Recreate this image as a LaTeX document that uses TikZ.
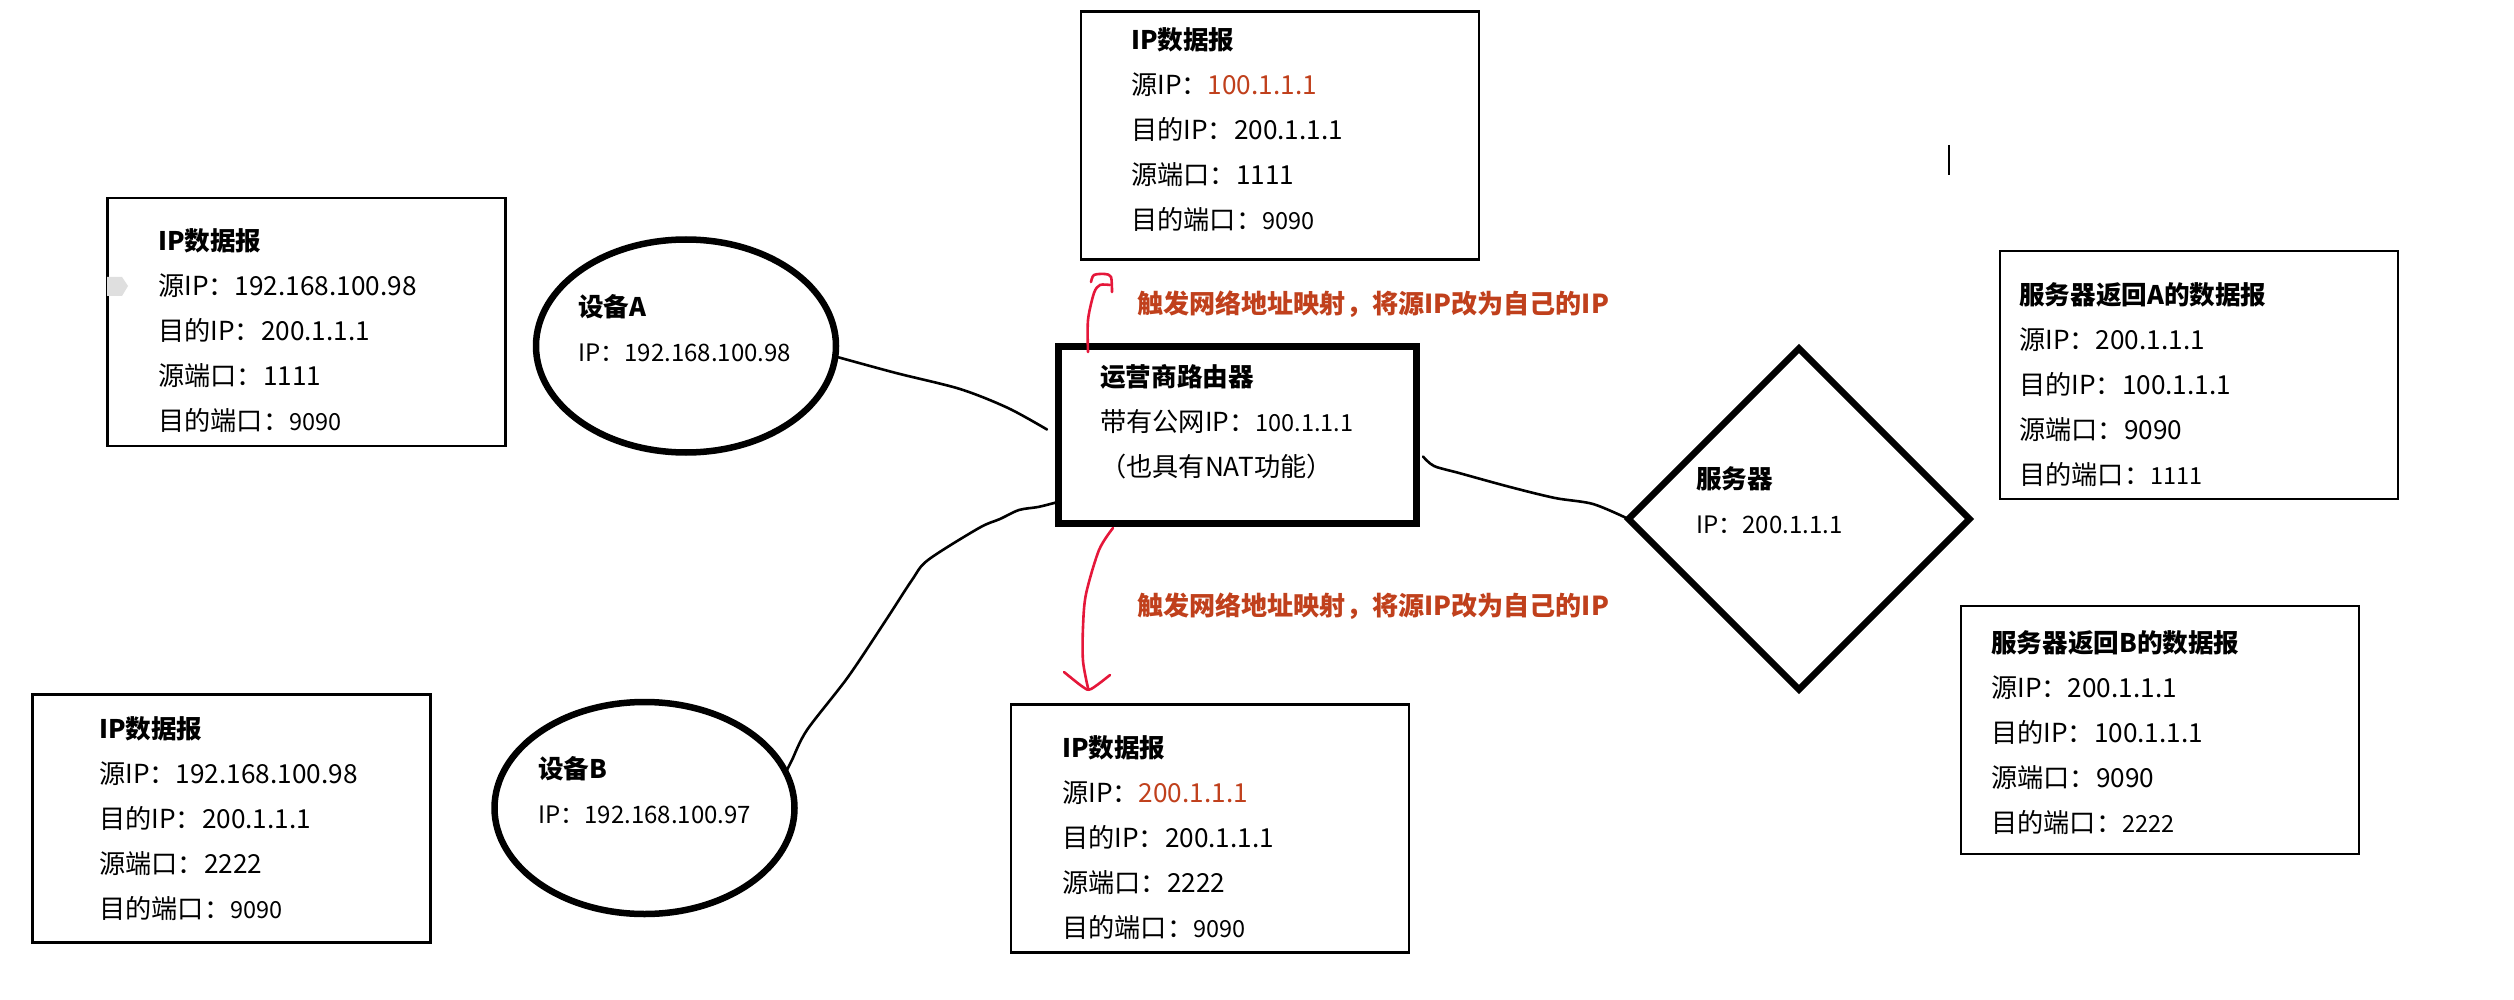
\documentclass[tikz,border=0pt]{standalone}
\usepackage{fontspec}
\setmainfont{Noto Sans CJK SC}
\usetikzlibrary{shapes.geometric}
\definecolor{noteRed}{HTML}{C0401C}
\definecolor{penRed}{HTML}{E5173A}
\newcommand\headtxt[1]{{\bfseries\fontsize{25.6}{45}\selectfont #1}}
\newcommand\smallnum[1]{{\fontsize{23.5}{45}\selectfont #1}}
\tikzset{
  x=1pt,y=-1pt,
  pktbox/.style={draw=black,line width=2.2pt,rectangle,minimum width=398pt,minimum height=248pt,inner sep=0pt,outer sep=0pt},
  pkttext/.style={anchor=base west,align=left,inner sep=0pt,font=\fontsize{26.2}{45}\selectfont},
  devell/.style={draw=black,line width=6.5pt,ellipse,inner sep=0pt,outer sep=0pt},
  notetxt/.style={anchor=base west,inner sep=0pt,text=noteRed,font=\bfseries\fontsize{26.1}{30}\selectfont},
  wire/.style={draw=black,line width=2.6pt,line cap=round,line join=round},
  penline/.style={draw=penRed,line width=2.6pt,line cap=round,line join=round},
}
\begin{document}
\begin{tikzpicture}
\useasboundingbox (0,0) rectangle (2514,1000);
% packet boxes
\node[pktbox] (boxA) at (306.5,322) {};
\node[pktbox] (boxNatA) at (1280,135.5) {};
\node[pktbox] (boxNatB) at (1210,828.5) {};
\node[pktbox] (boxB) at (231.5,818.5) {};
\node[pktbox] (boxRetA) at (2199,375) {};
\node[pktbox] (boxRetB) at (2160,730) {};
% devices
\node[devell,minimum width=300pt,minimum height=213pt] (devA) at (686,346) {};
\node[devell,minimum width=300pt,minimum height=212pt] (devB) at (644.5,808) {};
\node[draw=black,line width=7pt,rectangle,minimum width=358pt,minimum height=177pt,inner sep=0pt,outer sep=0pt] (router) at (1237,434.5) {};
\node[draw=black,line width=6.5pt,diamond,shape aspect=1,minimum width=341pt,minimum height=341pt,inner sep=0pt,outer sep=0pt] (server) at (1799,519) {};
% packet texts
\node[pkttext] (txtA) at (158,430.5) {\headtxt{IP数据报}\\源IP：192.168.100.98\\目的IP：200.1.1.1\\源端口：1111\\目的端口：\smallnum{9090}};
\node[pkttext] (txtNatA) at (1131,230) {\headtxt{IP数据报}\\源IP：\textcolor{noteRed}{100.1.1.1}\\目的IP：200.1.1.1\\源端口：1111\\目的端口：\smallnum{9090}};
\node[pkttext] (txtNatB) at (1062,937) {\headtxt{IP数据报}\\源IP：\textcolor{noteRed}{200.1.1.1}\\目的IP：200.1.1.1\\源端口：2222\\目的端口：\smallnum{9090}};
\node[pkttext] (txtB) at (99,918.5) {\headtxt{IP数据报}\\源IP：192.168.100.98\\目的IP：200.1.1.1\\源端口：2222\\目的端口：\smallnum{9090}};
\node[pkttext] (txtRetA) at (2019,484) {\headtxt{服务器返回A的数据报}\\源IP：200.1.1.1\\目的IP：100.1.1.1\\源端口：9090\\目的端口：\smallnum{1111}};
\node[pkttext] (txtRetB) at (1991,832.5) {\headtxt{服务器返回B的数据报}\\源IP：200.1.1.1\\目的IP：100.1.1.1\\源端口：9090\\目的端口：\smallnum{2222}};
% device texts
\node[pkttext] (txtDevA) at (578,361) {\headtxt{设备A}\\{\fontsize{24}{45}\selectfont IP：192.168.100.98}};
\node[pkttext] (txtDevB) at (538,823) {\headtxt{设备B}\\{\fontsize{24}{45}\selectfont IP：192.168.100.97}};
\node[pkttext] (txtRouter) at (1100,476) {\headtxt{运营商路由器}\\带有公网IP：\smallnum{100.1.1.1}\\（也具有NAT功能）};
\node[pkttext] (txtServer) at (1696,533) {\headtxt{服务器}\\{\fontsize{24}{45}\selectfont IP：200.1.1.1}};
% notes
\node[notetxt] (noteUp) at (1137,314) {触发网络地址映射，将源IP改为自己的IP};
\node[notetxt] (noteDown) at (1137,615) {触发网络地址映射，将源IP改为自己的IP};
% connectors
\draw[wire] plot[smooth,tension=0.5] coordinates {(devA.-4) (896,373) (960,389) (1008,408) ([xshift=-11pt,yshift=5pt]router.west)};
\draw[wire] plot[smooth,tension=0.5] coordinates {([xshift=-2pt,yshift=-68pt]router.west) (1038,507) (1019,510) (1000,519) (979,528) (928,560) (912,580) (886,620) (848,677) (807,730) (792,760) ([xshift=-8pt,yshift=37pt]devB.east)};
\draw[wire] plot[smooth,tension=0.5] coordinates {([xshift=7pt,yshift=-22pt]router.east) (1434,466) (1459,473) (1510,487) (1555,498) (1593,504) (server.west)};
% red arrows
\draw[penline] plot[smooth,tension=0.5] coordinates {([xshift=-149pt,yshift=-6pt]router.north) (1088,320) (1094,293) (1100,285) (1110,285)};
\draw[penline] plot[smooth,tension=0.5] coordinates {(1091,282) (1094,275) (1105,274) (1111,277) (1112,292)};
\draw[penline] plot[smooth,tension=0.5] coordinates {([xshift=-124pt,yshift=-5pt]router.south) (1099,550) (1086,594) (1083,627) (1083,661) (1088,688)};
\draw[penline] plot[smooth,tension=0.5] coordinates {(1064,672) (1083,687) (1091,689) (1110,675)};
% caret and marker
\draw[black,line width=2pt] (1949,145) -- (1949,175);
\fill[gray!25] (107,277) -- (122,277) -- (128,286) -- (122,296) -- (107,296) -- cycle;
\end{tikzpicture}
\end{document}
